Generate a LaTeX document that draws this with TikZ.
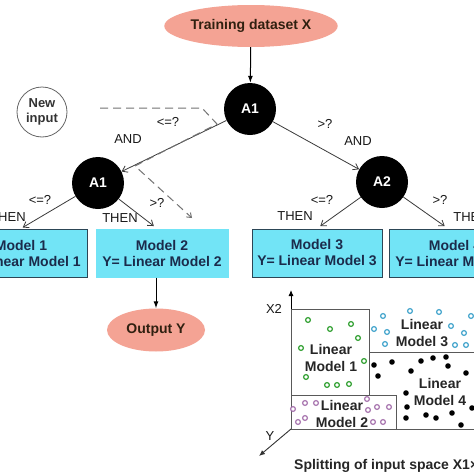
\documentclass[tikz,border=0pt]{standalone}
\usepackage{fontspec}
\setmainfont{Liberation Sans}
\usetikzlibrary{arrows.meta,shapes.geometric}
\definecolor{salmon}{HTML}{F4A394}
\definecolor{cyanBox}{HTML}{72E4F6}
\definecolor{boxLine}{HTML}{2C4656}
\definecolor{navy}{HTML}{1B2B4B}
\definecolor{edgeGray}{HTML}{3A3A3A}
\definecolor{dotGreen}{HTML}{2E9E2E}
\definecolor{dotBlue}{HTML}{3FA3CC}
\definecolor{dotPurple}{HTML}{A673AE}

\begin{document}
\begin{tikzpicture}[x=1pt,y=-1pt,>=Stealth,
  every node/.style={inner sep=1pt},
  blob/.style={ellipse,fill=salmon,text=brown!25!black,font=\fontsize{14}{16}\selectfont\bfseries},
  test/.style={circle,fill=black,text=white,minimum size=52pt,font=\fontsize{14}{16}\selectfont\bfseries},
  model/.style={rectangle,fill=cyanBox,draw=boxLine,line width=1pt,minimum width=132pt,minimum height=48pt,
    align=center,text=navy,font=\fontsize{14}{16}\selectfont\bfseries},
  lbl/.style={text=black!90,font=\fontsize{13}{15}\selectfont},
  region/.style={align=center,text=black!85,font=\fontsize{14}{17}\selectfont\bfseries},
  branch/.style={-{Straight Barb[length=5pt,width=7pt]},edgeGray,line width=0.8pt},
  feed/.style={-{Latex[length=7pt,width=5pt]},black,line width=1pt},
  ring/.style={draw=#1,line width=1.2pt,fill=white}]
\useasboundingbox (0,0) rectangle (474,474);
\fill[white] (0,0) rectangle (474,474);
\clip (0,0) rectangle (474,474);
% --- tree ---
\node[blob,minimum width=142pt,minimum height=42pt] (train) at (251,26) {Training dataset X};
\node[test] (root) at (250,109) {A1};
\node[circle,draw=black!60,line width=0.8pt,minimum size=50pt,align=center,
  font=\fontsize{13}{15}\selectfont\bfseries,text=black!80] (new) at (42,112) {New\\input};
\node[test] (left) at (98,183) {A1};
\node[test] (right) at (382,182) {A2};
\node[model] (m1) at (21,253) {Model 1\\Y= Linear Model 1};
\node[model,draw=cyanBox] (m2) at (162,253) {Model 2\\Y= Linear Model 2};
\node[model,minimum width=130pt] (m3) at (317,253) {Model 3\\Y= Linear Model 3};
\node[model] (m4) at (455,253) {Model 4\\Y= Linear Model 4};
\node[blob,minimum width=98pt,minimum height=43pt] (out) at (156,330) {Output Y};
\draw[feed] (train) -- (root);
\draw[feed] (m2.south -| out) -- (out);
\draw[branch] (root) -- (left);
\draw[branch] (root) -- (right);
\draw[branch,shorten >=2pt] (left) -- (m1.north);
\draw[branch,shorten >=4pt] (left) -- (m2.north west -| 157,0);
\draw[branch,shorten >=4pt] (right) -- (m3.north);
\draw[branch,shorten >=4pt] (right) -- (m4.north west -| 448,0);
\node[lbl] at (168,122) {<=?};
\node[lbl] at (128,139) {AND};
\node[lbl] at (325,124) {>?};
\node[lbl] at (358,141) {AND};
\node[lbl] at (40,200) {<=?};
\node[lbl] at (8,217) {THEN};
\node[lbl] at (157,203) {>?};
\node[lbl] at (120,218) {THEN};
\node[lbl] at (322,200) {<=?};
\node[lbl] at (295,216) {THEN};
\node[lbl] at (440,200) {>?};
\node[lbl] at (471,217) {THEN};
% --- path of the new input ---
\coordinate (d1) at (100,108);
\coordinate (d2) at (202,108);
\coordinate (d3) at (217,124);
\coordinate (d4) at (135,166);
\coordinate (d5) at (192,218);
\draw[->,black!55,line width=1pt,dash pattern=on 8pt off 5pt,>={Straight Barb[length=4pt,width=6pt]}]
  (d1) -- (d2) -- (d3) -- (d4) -- (d5);
% --- splitting of input space ---
\coordinate (O) at (291,429);
\coordinate (x2) at (291,290);
\coordinate (yy) at (259,456);
\draw[-{Latex[length=6pt,width=5pt]},black,line width=0.9pt] (O) -- (x2);
\draw[-{Latex[length=6pt,width=5pt]},black!80,line width=0.9pt] (O) -- (yy);
\node[lbl] at (274,309) {X2};
\node[lbl] at (270,436) {Y};
\draw[black!65,line width=0.9pt] (291,309) rectangle (369,395);
\draw[black!65,line width=0.9pt] (291,395) rectangle (396,429);
\draw[black!65,line width=0.9pt] (369,352) -- (480,352);
\draw[black!65,line width=0.9pt] (O) -- (480,429);
\foreach \x/\y in {308/320,330/329,351/324,358/338,301/348,364/361,306/377,327/385,337/385,349/384}
  \draw[ring=dotGreen] (\x,\y) circle (2.4);
\foreach \x/\y in {383/316,374/329,387/332,385/344,410/311,439/312,451/326,464/333,455/345,466/345,471/316}
  \draw[ring=dotBlue] (\x,\y) circle (2.4);
\foreach \x/\y in {293/409,305/403,316/403,298/422,305/418,367/399,368/410,377/407,389/407,373/422,383/422}
  \draw[ring=dotPurple] (\x,\y) circle (2.4);
\foreach \x/\y in {374/365,392/362,378/376,421/361,433/358,446/357,448/366,411/371,466/373,406/393,
  407/407,406/418,426/415,436/418,452/413,461/425,472/408}
  \fill[black] (\x,\y) circle (2.8);
\node[region] at (331,358) {Linear\\Model 1};
\node[region] at (342,414) {Linear\\Model 2};
\node[region] at (422,333) {Linear\\Model 3};
\node[region] at (440,392) {Linear\\Model 4};
\node[anchor=west,font=\fontsize{14}{16}\selectfont\bfseries,text=black!85] at (293,466) {Splitting of input space X1×X2};
\end{tikzpicture}
\end{document}
